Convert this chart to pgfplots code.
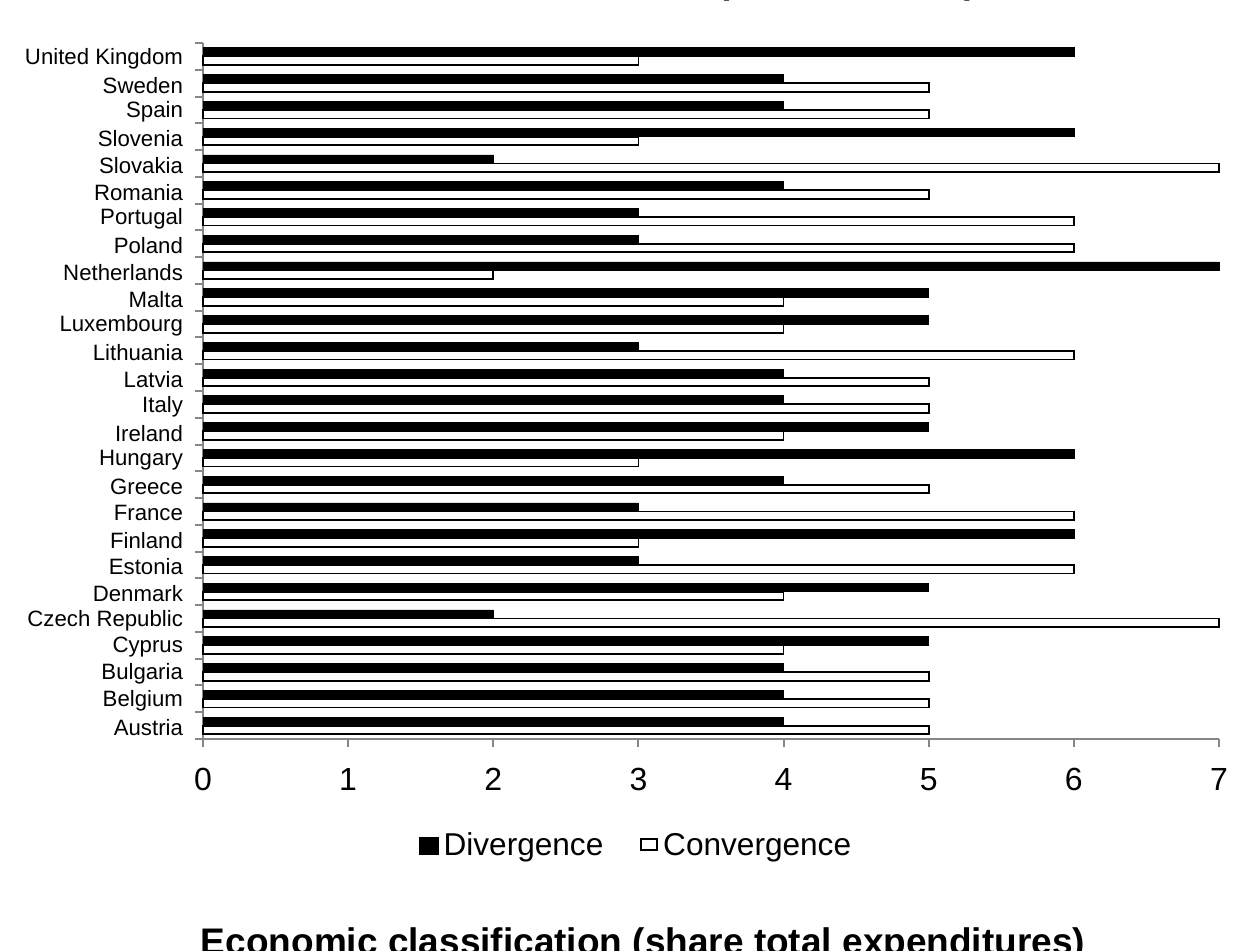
\documentclass[border=0pt]{standalone}
\usepackage{pgfplots}
\pgfplotsset{compat=1.18}
\usepackage{pgfplotstable}
\usepackage{fontspec}
\setmainfont{Liberation Sans}
\usetikzlibrary{calc}
\definecolor{axisgray}{RGB}{134,134,134}

% y = category index (Austria at the bottom), div = Divergence, conv = Convergence
\pgfplotstableread{
y div conv
0 4 5
1 4 5
2 4 5
3 5 4
4 2 7
5 5 4
6 3 6
7 6 3
8 3 6
9 4 5
10 6 3
11 5 4
12 4 5
13 4 5
14 3 6
15 5 4
16 5 4
17 7 2
18 3 6
19 3 6
20 4 5
21 2 7
22 6 3
23 4 5
24 4 5
25 6 3
}\countries

\begin{document}
\begin{tikzpicture}
\begin{axis}[
  name=ax,
  xbar,
  scale only axis,
  width=508pt, height=348pt,
  xmin=0, xmax=7,
  ymin=-0.5, ymax=25.5,
  clip=false,
  bar width=4.3pt,
  axis lines*=left,
  axis line style={axisgray, line width=1pt},
  tick style={axisgray, line width=1pt},
  tick align=outside,
  major tick length=4pt,
  xtick={0,...,7},
  ytick={-0.5,0.5,...,25.5},
  yticklabels={},
  extra y ticks={0,...,25},
  extra y tick style={major tick length=0pt},
  extra y tick labels={Austria,Belgium,Bulgaria,Cyprus,Czech Republic,Denmark,Estonia,Finland,France,Greece,Hungary,Ireland,Italy,Latvia,Lithuania,Luxembourg,Malta,Netherlands,Poland,Portugal,Romania,Slovakia,Slovenia,Spain,Sweden,United Kingdom},
  /pgf/number format/assume math mode=true,
  xticklabel style={font=\fontsize{16}{19}\selectfont, yshift=-7pt},
  yticklabel style={font=\fontsize{11.1}{13}\selectfont, xshift=-6.5pt, yshift=-1pt},
  legend columns=-1,
  legend style={draw=none, at={(axis description cs:0.4277,-0.1537)}, anchor=center,
    font=\fontsize{15.8}{18}\selectfont,
    nodes={inner xsep=2.5pt},
    /tikz/every even column/.append style={column sep=16pt}},
  legend cell align=left,
]
\addplot[fill=black, draw=black, line width=0.3pt, bar shift=2.15pt,
  legend image code/.code={\fill[black] (0pt,-4.3pt) rectangle (9.5pt,4.2pt);}]
  table[x=div, y=y] {\countries};
\addplot[fill=white, draw=black, line width=0.9pt, bar shift=-2.15pt,
  legend image code/.code={\draw[black, line width=0.9pt, fill=white] (0pt,-2pt) rectangle (8pt,3.6pt);}]
  table[x=conv, y=y] {\countries};
\legend{Divergence, Convergence}
\end{axis}
\pgfresetboundingbox
\useasboundingbox ($(ax.south west)+(-101.5pt,-105.5pt)$) rectangle ($(ax.north east)+(9.5pt,21.5pt)$);
\node[anchor=base, font=\bfseries\fontsize{18.5}{22}\selectfont]
  at ($(ax.north west)+(214pt,24.5pt)$) {Economic classification (share of GDP)};
\node[anchor=base, font=\bfseries\fontsize{18.5}{22}\selectfont]
  at ($(ax.south west)+(220pt,-107.5pt)$) {Economic classification (share total expenditures)};
\end{tikzpicture}
\end{document}
